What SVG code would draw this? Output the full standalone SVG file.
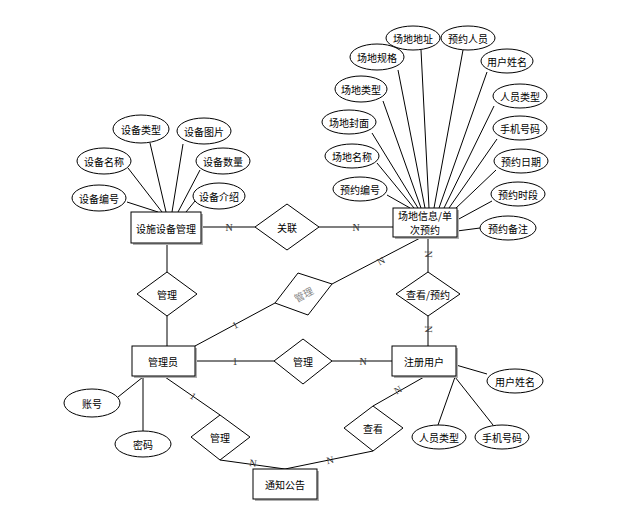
<svg xmlns="http://www.w3.org/2000/svg" width="619" height="509" viewBox="0 0 619 509">
  <style>
    .ent { fill: #fff; stroke: #000; stroke-width: 1; }
    .shadow { fill: #b0b0b0; }
    .rel { fill: #fff; stroke: #000; stroke-width: 1; }
    .attr { fill: #fff; stroke: #000; stroke-width: 1; }
    .ln { stroke: #000; stroke-width: 1; fill: none; }
    .ln2 { stroke: #555; stroke-width: 1.6; fill: none; }
    text { font-family: "Noto Sans CJK SC", "Noto Sans", sans-serif; font-size: 10px; fill: #000; text-anchor: middle; dominant-baseline: central; }
    .card { font-family: "Liberation Serif", serif; font-size: 10px; fill: #333; }
    .grey { fill: #888; }
  </style>
  <rect width="619" height="509" fill="#fff"/>

  <!-- connectors -->
  <g id="connectors">
    <!-- equipment attributes -->
    <line class="ln" x1="127" y1="202" x2="158" y2="212"/>
    <line class="ln" x1="128" y1="168" x2="162" y2="212"/>
    <line class="ln" x1="150" y1="143" x2="166" y2="212"/>
    <line class="ln" x1="183" y1="144" x2="172" y2="212"/>
    <line class="ln" x1="200" y1="170" x2="178" y2="212"/>
    <line class="ln" x1="195" y1="201" x2="186" y2="212"/>
    <!-- venue / booking attributes -->
    <line class="ln" x1="387" y1="195" x2="410" y2="208"/>
    <line class="ln" x1="377" y1="163" x2="414" y2="208"/>
    <line class="ln" x1="372" y1="133" x2="418" y2="208"/>
    <line class="ln" x1="383" y1="101" x2="421" y2="208"/>
    <line class="ln" x1="398" y1="70" x2="425" y2="208"/>
    <line class="ln" x1="421" y1="50" x2="429" y2="208"/>
    <line class="ln" x1="463" y1="50" x2="434" y2="208"/>
    <line class="ln" x1="487" y1="72" x2="439" y2="208"/>
    <line class="ln" x1="494" y1="106" x2="444" y2="208"/>
    <line class="ln" x1="497" y1="139" x2="449" y2="208"/>
    <line class="ln" x1="496" y1="170" x2="455" y2="209"/>
    <line class="ln" x1="492" y1="201" x2="457" y2="220"/>
    <line class="ln" x1="480" y1="228" x2="457" y2="231"/>
    <!-- equipment - link - venue -->
    <line class="ln2" x1="201" y1="227" x2="255" y2="227"/>
    <line class="ln2" x1="319" y1="227" x2="393" y2="227"/>
    <!-- equipment - manage - admin -->
    <line class="ln" x1="167" y1="243" x2="167" y2="272"/>
    <line class="ln" x1="167" y1="316" x2="167" y2="346"/>
    <!-- admin - manage(rotated) - venue -->
    <line class="ln" x1="195" y1="346" x2="275" y2="303"/>
    <line class="ln" x1="332" y1="284" x2="422" y2="237"/>
    <!-- venue - view/book - user -->
    <line class="ln" x1="428" y1="237" x2="428" y2="272"/>
    <line class="ln" x1="428" y1="316" x2="428" y2="346"/>
    <!-- admin - manage - user -->
    <line class="ln" x1="195" y1="361" x2="274" y2="361"/>
    <line class="ln" x1="332" y1="361" x2="392" y2="361"/>
    <!-- admin attributes -->
    <line class="ln" x1="118" y1="397" x2="143" y2="377"/>
    <line class="ln" x1="143" y1="377" x2="143" y2="431"/>
    <!-- admin - manage - notice -->
    <line class="ln" x1="165" y1="377" x2="220" y2="415"/>
    <line class="ln" x1="220" y1="460" x2="285" y2="469"/>
    <!-- user - view - notice -->
    <line class="ln" x1="424" y1="377" x2="373" y2="406"/>
    <line class="ln" x1="373" y1="451" x2="285" y2="469"/>
    <!-- user attributes -->
    <line class="ln" x1="456" y1="365" x2="487" y2="374"/>
    <line class="ln" x1="455" y1="377" x2="438" y2="425"/>
    <line class="ln" x1="455" y1="377" x2="493" y2="425"/>

    <!-- cardinality marks -->
    <text class="card" x="229" y="227">N</text>
    <text class="card" x="356" y="227">N</text>
    <text class="card" x="235" y="325" transform="rotate(-28 235 325)">1</text>
    <text class="card" x="381" y="261" transform="rotate(-28 381 261)">N</text>
    <text class="card" x="428" y="254" transform="rotate(90 428 254)">N</text>
    <text class="card" x="428" y="329" transform="rotate(90 428 329)">N</text>
    <text class="card" x="235" y="361">1</text>
    <text class="card" x="363" y="361">N</text>
    <text class="card" x="193" y="396" transform="rotate(35 193 396)">1</text>
    <text class="card" x="253" y="463" transform="rotate(8 253 463)">N</text>
    <text class="card" x="330" y="460" transform="rotate(-12 330 460)">N</text>
    <text class="card" x="398" y="390" transform="rotate(-30 398 390)">N</text>
  </g>

  <!-- entities -->
  <g id="equipment">
    <rect class="shadow" x="133" y="214" width="70" height="31"/>
    <rect class="ent" x="131" y="212" width="70" height="31"/>
    <text x="166" y="228">设施设备管理</text>
  </g>
  <g id="venue">
    <rect class="shadow" x="395" y="210" width="64" height="29"/>
    <rect class="ent" x="393" y="208" width="64" height="29"/>
    <text x="425" y="215">场地信息/单</text>
    <text x="425" y="229">次预约</text>
  </g>
  <g id="admin">
    <rect class="shadow" x="134" y="348" width="63" height="30"/>
    <rect class="ent" x="132" y="346" width="63" height="30"/>
    <text x="163" y="361">管理员</text>
  </g>
  <g id="user">
    <rect class="shadow" x="394" y="348" width="64" height="30"/>
    <rect class="ent" x="392" y="346" width="64" height="30"/>
    <text x="424" y="361">注册用户</text>
  </g>
  <g id="notice">
    <rect class="shadow" x="255" y="471" width="64" height="30"/>
    <rect class="ent" x="253" y="469" width="64" height="30"/>
    <text x="285" y="484">通知公告</text>
  </g>

  <!-- relationships -->
  <g id="rel-link">
    <polygon class="rel" points="287,204 319,227 287,250 255,227"/>
    <text x="287" y="227">关联</text>
  </g>
  <g id="rel-manage-equipment">
    <polygon class="rel" points="167,272 197,294 167,316 137,294"/>
    <text x="167" y="294">管理</text>
  </g>
  <g id="rel-manage-venue">
    <polygon class="rel" points="298,273 332,284 308,315 275,303"/>
    <text class="grey" x="303.5" y="294" transform="rotate(-28 303.5 294)">管理</text>
  </g>
  <g id="rel-view-book">
    <polygon class="rel" points="428,272 460,294 428,316 396,294"/>
    <text x="428" y="294">查看/预约</text>
  </g>
  <g id="rel-manage-user">
    <polygon class="rel" points="303,339 332,361 303,384 274,361"/>
    <text x="303" y="361">管理</text>
  </g>
  <g id="rel-manage-notice">
    <polygon class="rel" points="220,415 250,437 220,460 191,437"/>
    <text x="220" y="437">管理</text>
  </g>
  <g id="rel-view-notice">
    <polygon class="rel" points="373,406 403,428 373,451 344,428"/>
    <text x="373" y="428">查看</text>
  </g>

  <!-- equipment attributes -->
  <g id="attr-eq-type"><ellipse class="attr" cx="141" cy="129" rx="28" ry="14"/><text x="141" y="129">设备类型</text></g>
  <g id="attr-eq-pic"><ellipse class="attr" cx="204" cy="131" rx="27" ry="13"/><text x="204" y="131">设备图片</text></g>
  <g id="attr-eq-name"><ellipse class="attr" cx="104" cy="161" rx="27" ry="13"/><text x="104" y="161">设备名称</text></g>
  <g id="attr-eq-qty"><ellipse class="attr" cx="223" cy="161" rx="27" ry="13"/><text x="223" y="161">设备数量</text></g>
  <g id="attr-eq-no"><ellipse class="attr" cx="99" cy="198" rx="27" ry="13"/><text x="99" y="198">设备编号</text></g>
  <g id="attr-eq-desc"><ellipse class="attr" cx="219" cy="196" rx="26" ry="13"/><text x="219" y="196">设备介绍</text></g>

  <!-- venue / booking attributes -->
  <g id="attr-v-addr"><ellipse class="attr" cx="413" cy="38" rx="27" ry="12"/><text x="413" y="38">场地地址</text></g>
  <g id="attr-v-person"><ellipse class="attr" cx="468" cy="38" rx="27" ry="12"/><text x="468" y="38">预约人员</text></g>
  <g id="attr-v-spec"><ellipse class="attr" cx="377" cy="57" rx="27" ry="13"/><text x="377" y="57">场地规格</text></g>
  <g id="attr-v-uname"><ellipse class="attr" cx="507" cy="61" rx="26" ry="12"/><text x="507" y="61">用户姓名</text></g>
  <g id="attr-v-type"><ellipse class="attr" cx="361" cy="89" rx="26" ry="13"/><text x="361" y="89">场地类型</text></g>
  <g id="attr-v-ptype"><ellipse class="attr" cx="520" cy="96" rx="27" ry="12"/><text x="520" y="96">人员类型</text></g>
  <g id="attr-v-cover"><ellipse class="attr" cx="349" cy="122" rx="27" ry="12"/><text x="349" y="122">场地封面</text></g>
  <g id="attr-v-phone"><ellipse class="attr" cx="520" cy="128" rx="27" ry="12"/><text x="520" y="128">手机号码</text></g>
  <g id="attr-v-name"><ellipse class="attr" cx="352" cy="156" rx="27" ry="12"/><text x="352" y="156">场地名称</text></g>
  <g id="attr-v-date"><ellipse class="attr" cx="521" cy="161" rx="27" ry="12"/><text x="521" y="161">预约日期</text></g>
  <g id="attr-v-no"><ellipse class="attr" cx="360" cy="189" rx="27" ry="12"/><text x="360" y="189">预约编号</text></g>
  <g id="attr-v-slot"><ellipse class="attr" cx="518" cy="194" rx="27" ry="12"/><text x="518" y="194">预约时段</text></g>
  <g id="attr-v-note"><ellipse class="attr" cx="508" cy="228" rx="28" ry="12"/><text x="508" y="228">预约备注</text></g>

  <!-- admin attributes -->
  <g id="attr-a-account"><ellipse class="attr" cx="92" cy="403" rx="28" ry="14"/><text x="92" y="403">账号</text></g>
  <g id="attr-a-pwd"><ellipse class="attr" cx="143" cy="444" rx="28" ry="13"/><text x="143" y="444">密码</text></g>

  <!-- user attributes -->
  <g id="attr-u-name"><ellipse class="attr" cx="515" cy="381" rx="28" ry="12"/><text x="515" y="381">用户姓名</text></g>
  <g id="attr-u-type"><ellipse class="attr" cx="439" cy="437" rx="27" ry="12"/><text x="439" y="437">人员类型</text></g>
  <g id="attr-u-phone"><ellipse class="attr" cx="502" cy="437" rx="27" ry="12"/><text x="502" y="437">手机号码</text></g>
</svg>
